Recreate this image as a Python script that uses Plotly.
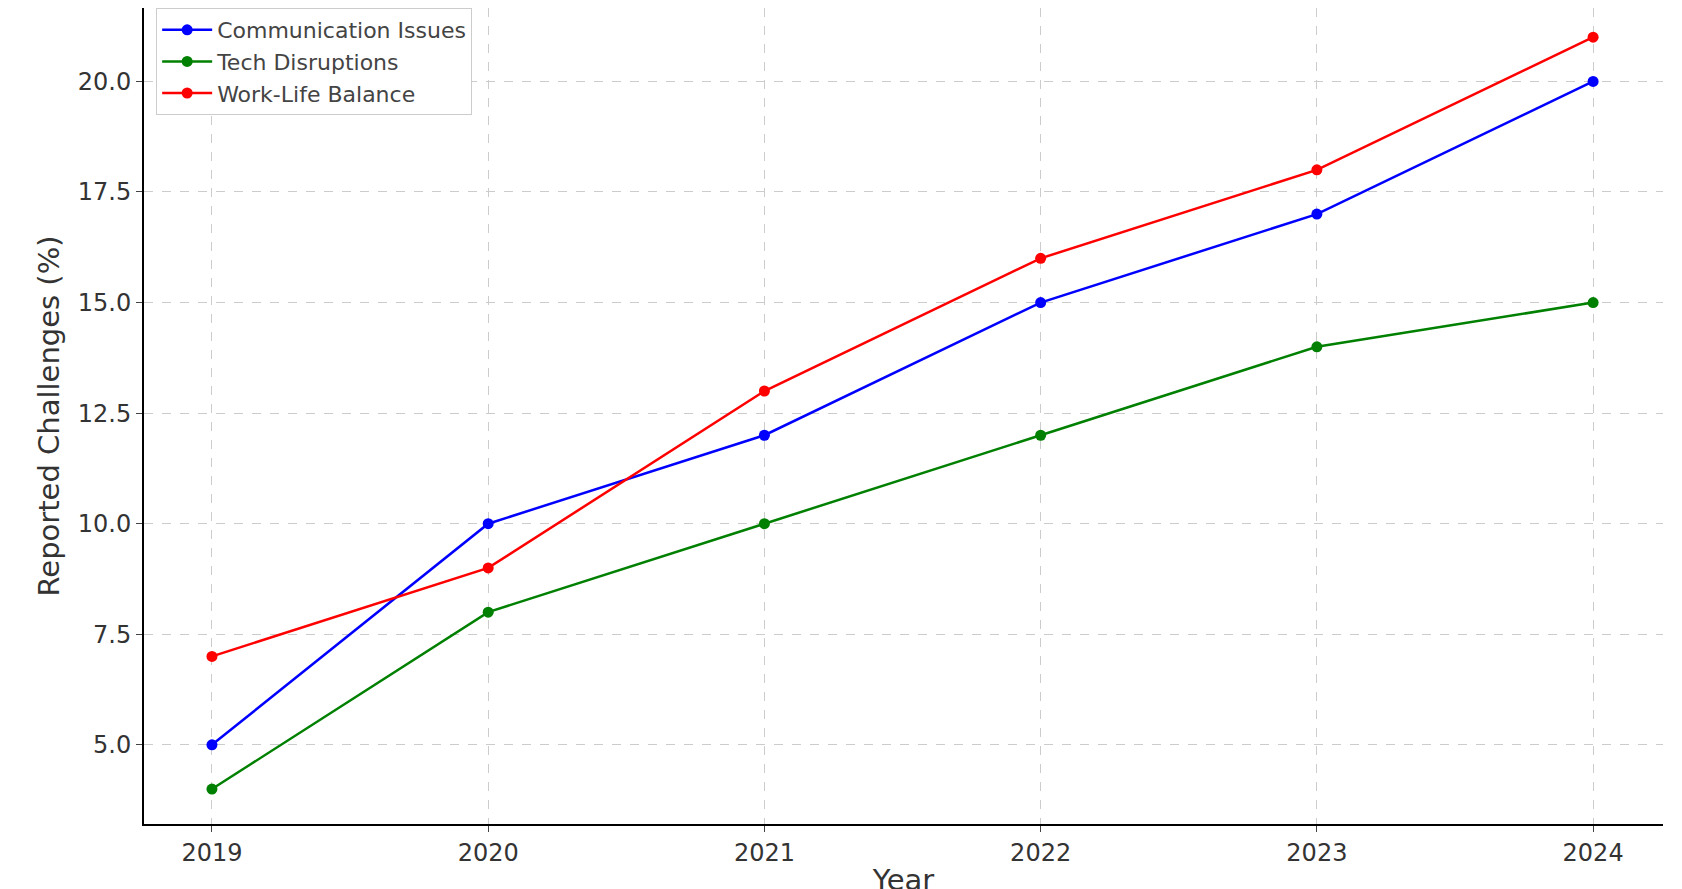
import plotly.graph_objects as go

years = [2019, 2020, 2021, 2022, 2023, 2024]
communication = [5, 10, 12, 15, 17, 20]
tech = [4, 8, 10, 12, 14, 15]
worklife = [7, 9, 13, 16, 18, 21]

fig = go.Figure()
for name, vals, col in [("Communication Issues", communication, "blue"),
                        ("Tech Disruptions", tech, "green"),
                        ("Work-Life Balance", worklife, "red")]:
    fig.add_trace(go.Scatter(x=years, y=vals, name=name, mode="lines+markers",
                             line=dict(color=col, width=2.5), marker=dict(color=col, size=11)))

fig.update_layout(
    width=1682, height=889, plot_bgcolor="white", paper_bgcolor="white",
    margin=dict(l=136, r=27, t=0, b=54),
    font=dict(family="DejaVu Sans", size=24, color="#333"),
    legend=dict(x=0.008, y=1.0, xanchor="left", yanchor="top", bgcolor="white",
                bordercolor="#ccc", borderwidth=1, font=dict(size=22, color="#444"),
                itemwidth=50, tracegroupgap=4),
    xaxis=dict(range=[2018.754, 2024.253], tickvals=years, showline=True, linecolor="black",
               linewidth=2, ticks="outside", ticklen=6, showgrid=True, gridcolor="#ccc",
               griddash="dash", zeroline=False,
               title=dict(text="Year", standoff=10)),
    yaxis=dict(range=[3.21, 21.66], tickvals=[5, 7.5, 10, 12.5, 15, 17.5, 20], tickformat=".1f",
               showline=True, linecolor="black", linewidth=2, ticks="outside", ticklen=6,
               showgrid=True, gridcolor="#ccc", griddash="dash", zeroline=False,
               title=dict(text="Reported Challenges (%)", standoff=10)),
)
fig.write_html("out.html")
